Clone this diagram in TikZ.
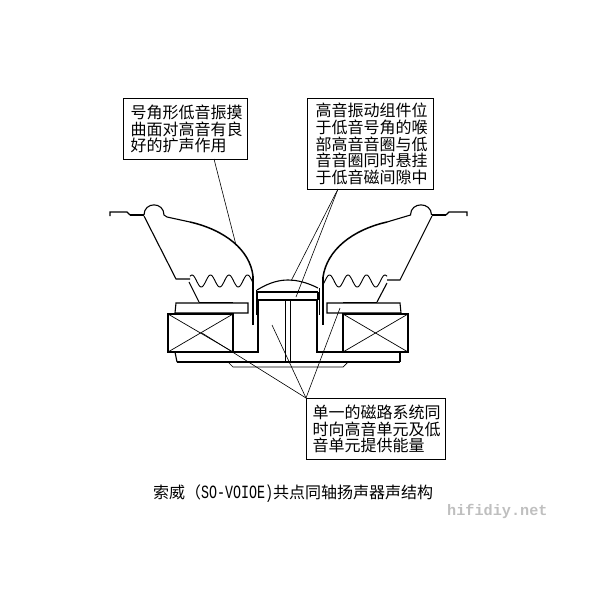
\documentclass[tikz,border=0pt]{standalone}
\usepackage{fontspec}
\setmainfont{Noto Sans CJK SC}
\newfontfamily\wmfont{Liberation Mono}
\tikzset{
  thin line/.style={line width=0.7pt,black},
  med line/.style={line width=1.1pt,black},
  heavy line/.style={line width=1.9pt,black},
  note box/.style={draw=black,line width=1pt,fill=white,anchor=north west,inner xsep=0pt,inner ysep=0pt,
    align=left,font=\fontsize{16}{16.3}\selectfont},
  leader/.style={line width=0.6pt,black}
}
\begin{document}
\begin{tikzpicture}[x=1pt,y=-1pt]
\useasboundingbox (0,0) rectangle (600,600);
% --- left half of the speaker
\draw[med line] (110,216) -- (110,212) -- (127,212) -- (130,215);
\draw[heavy line] (130,215) -- (144,215);
\draw[med line] (144,215) .. controls (144,201.5) and (164,201.5) .. (164,215) -- (167,217) -- (190,222);
\draw[heavy line,line width=1.5pt] (190,222) .. controls (225,230) and (250,250) .. (253,276);
\draw[med line] (144,216) -- (176,279) -- (190,279);
\draw[thin line,line width=0.9pt] plot[smooth,samples=90,domain=190:253] ({\x},{281-6*cos(19.46*(\x-192))});
\draw[med line] (189,282) -- (199,302);
\draw[heavy line] (199,302.5) -- (233,302.5);
\draw[med line] (176,303) -- (248,303) -- (248,313) -- (175,313) -- cycle;
\draw[med line] (168,314) rectangle (233,352);
\draw[heavy line] (168,314) -- (233,314);
\draw[heavy line] (168,352) -- (233,352);
\draw[thin line] (168,314) -- (233,352);
\draw[thin line] (168,352) -- (233,314);
\draw[med line] (175,352) -- (177,362);
\draw[med line] (233,352) -- (258,352) -- (258,300);
% --- right half of the speaker
\draw[med line] (467,216) -- (467,212) -- (449,212) -- (446,215);
\draw[heavy line] (446,215) -- (432,215);
\draw[med line] (431.5,215) .. controls (431.5,201.5) and (410.5,201.5) .. (410.5,215) -- (387,222);
\draw[heavy line,line width=1.5pt] (387,222) .. controls (352,230) and (327,250) .. (323,277);
\draw[med line] (432,216) -- (400,280) -- (387,280);
\draw[thin line,line width=0.9pt] plot[smooth,samples=90,domain=323:387] ({\x},{281-6*cos(19.46*(\x-385))});
\draw[med line] (387,283) -- (377,302);
\draw[heavy line] (343,302.5) -- (377,302.5);
\draw[med line] (327,303) -- (400,303) -- (401,313) -- (327,313) -- cycle;
\draw[med line] (343,314) rectangle (408,352);
\draw[heavy line] (343,314) -- (408,314);
\draw[heavy line] (343,352) -- (408,352);
\draw[thin line] (343,314) -- (408,352);
\draw[thin line] (343,352) -- (408,314);
\draw[med line] (400,352) -- (400,362);
\draw[med line] (343,352) -- (317,352) -- (317,300);
% --- centre
\draw[heavy line] (177,362) -- (400,362);
\draw[thin line] (228,362) -- (233,367) -- (343,367) -- (348,362);
\draw[heavy line] (258,300) -- (318,300);
\draw[med line] (257,292) -- (318,292);
\draw[med line] (257,292) -- (257,300);
\draw[med line] (318,292) -- (318,300);
\draw[med line] (257,290) .. controls (270,282) and (280,280) .. (288,280) .. controls (298,280) and (308,283) .. (318,288);
\draw[med line] (285.7,300) -- (285.7,362);
\draw[med line] (290.7,300) -- (290.7,362);
\draw[heavy line] (252.7,276) -- (252.7,325);
\draw[heavy line] (323,277) -- (323,325);
\draw[thin line] (256.7,290) -- (256.7,315);
\draw[thin line] (319,288) -- (319,315);
% --- notes
\node[note box,minimum width=124pt,minimum height=61pt,text width=118pt,inner xsep=3pt] (hornnote) at (123,98)
  {\hspace{4pt}号角形低音振摸\\\hspace{4pt}曲面对高音有良\\\hspace{4pt}好的扩声作用};
\node[note box,minimum width=126pt,minimum height=91pt,text width=118pt,inner xsep=4pt,font=\fontsize{16}{16.6}\selectfont] (tweeternote) at (307,98)
  {\hspace{4pt}高音振动组件位\\\hspace{4pt}于低音号角的喉\\\hspace{4pt}部高音音圈与低\\\hspace{4pt}音音圈同时悬挂\\\hspace{4pt}于低音磁间隙中};
\node[note box,minimum width=139pt,minimum height=61pt,text width=133pt,inner xsep=3pt] (magnetnote) at (306,398)
  {\hspace{3pt}单一的磁路系统同\\\hspace{3pt}时向高音单元及低\\\hspace{3pt}音单元提供能量};
% --- leader ends
\coordinate (conetip) at (236,245);
\coordinate (tweeterstart) at (338,189);
\coordinate (dometip) at (291,281);
\coordinate (platetip) at (296,297);
\coordinate (magnetstart) at (306,398);
\coordinate (coiltip) at (202,333);
\coordinate (poletip) at (272,325);
\coordinate (gaptip) at (340,308);
\draw[leader] (214,159) -- (conetip);
\draw[leader] (tweeterstart) -- (dometip);
\draw[leader] (tweeterstart) -- (platetip);
\draw[leader] (magnetstart) -- (coiltip);
\draw[leader] (magnetstart) -- (poletip);
\draw[leader] (magnetstart) -- (gaptip);
% --- caption and watermark
\node[anchor=west,inner sep=0pt,font=\fontsize{16}{16}\selectfont] (caption) at (153,494) {索威（\scalebox{1}[1.4]{\wmfont\fontsize{13.33}{16}\selectfont SO-VOIOE)}共点同轴扬声器声结构};
\node[anchor=west,inner sep=0pt,text=black!25,font=\wmfont\bfseries\fontsize{15.2}{16}\selectfont] (watermark) at (447,511) {hifidiy.net};
\end{tikzpicture}
\end{document}
